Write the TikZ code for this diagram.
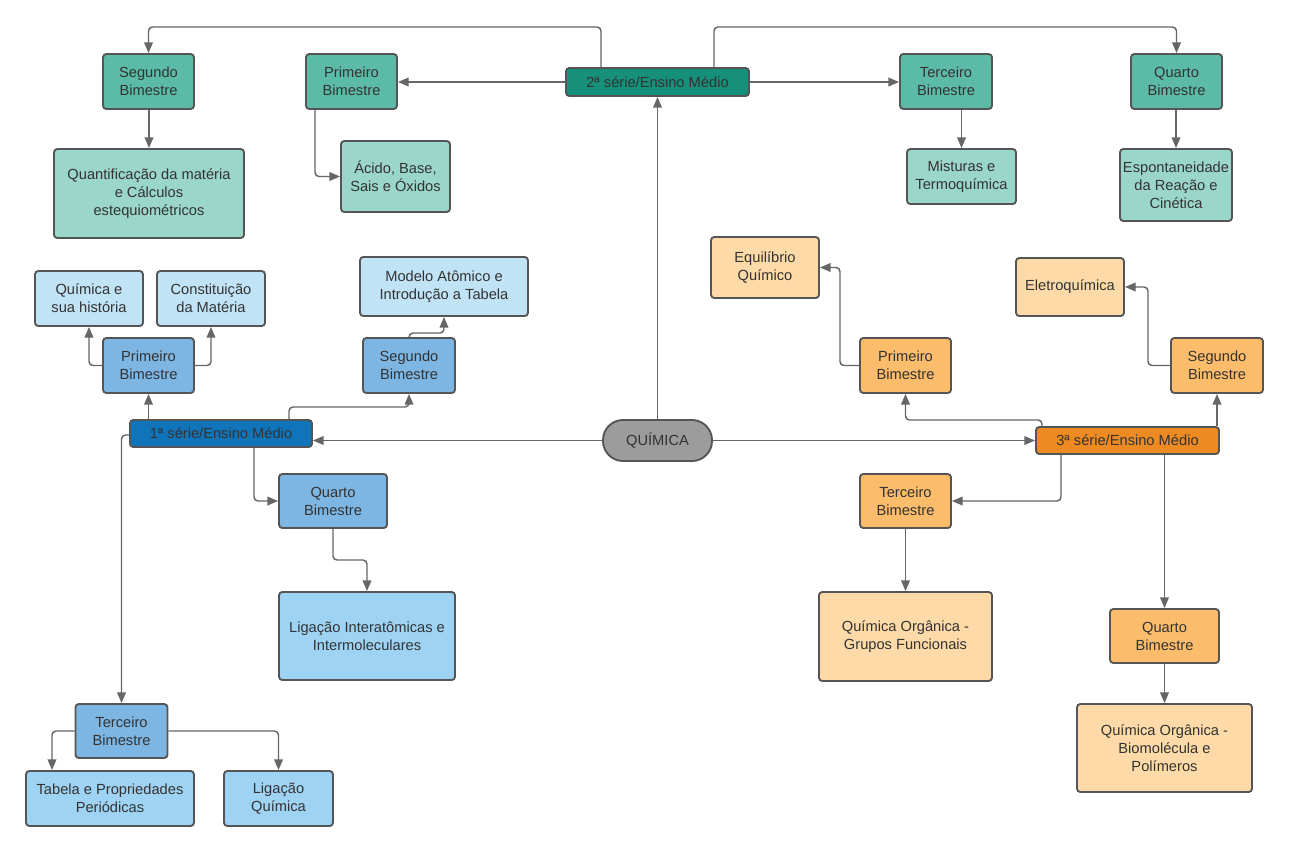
\documentclass[tikz,border=0pt]{standalone}
\usepackage{fontspec}
\setmainfont{Liberation Sans}
\usetikzlibrary{arrows.meta,calc}
\definecolor{tealD}{HTML}{16907A}
\definecolor{tealM}{HTML}{5BBBA6}
\definecolor{tealL}{HTML}{9BD6CA}
\definecolor{blueD}{HTML}{1074BB}
\definecolor{blueM}{HTML}{7DB5E3}
\definecolor{blueL}{HTML}{C1E3F6}
\definecolor{blueL2}{HTML}{9ED3F3}
\definecolor{orD}{HTML}{EE8A22}
\definecolor{orM}{HTML}{FBBD6C}
\definecolor{orL}{HTML}{FDDAA7}
\definecolor{grayQ}{HTML}{9C9C9C}
\definecolor{bordc}{HTML}{555555}
\definecolor{linec}{HTML}{666666}
\definecolor{txtc}{HTML}{333333}
\tikzset{
  box/.style={draw=bordc, line width=1.4pt, rounded corners=2.5pt, align=center,
    inner sep=0pt, text=txtc, font=\fontsize{11}{13.5}\selectfont},
  sz/.style 2 args={minimum width=#1*0.75pt, minimum height=#2*0.75pt},
  arr/.style={draw=linec, line width=1.1pt, rounded corners=3pt,
    -{Triangle[length=8pt,width=6.5pt]}},
}
\begin{document}
\begin{tikzpicture}[x=0.75pt,y=-0.75pt]
\useasboundingbox[fill=white] (0,0) rectangle (1290,851);
% ---- 2a serie (teal)
\node[box,fill=tealD,sz={183}{28}] (s2) at (657.5,82) {2ª série/Ensino Médio};
\node[box,fill=tealM,sz={91}{55}] (t1) at (148.5,81.5) {Segundo\\Bimestre};
\node[box,fill=tealM,sz={91}{55}] (t2) at (351.5,81.5) {Primeiro\\Bimestre};
\node[box,fill=tealM,sz={92}{55}] (t3) at (946,81.5) {Terceiro\\Bimestre};
\node[box,fill=tealM,sz={91}{55}] (t4) at (1176.5,81.5) {Quarto\\Bimestre};
\node[box,fill=tealL,sz={190}{89}] (tq) at (149,193.5) {Quantificação da matéria\\e Cálculos\\estequiométricos};
\node[box,fill=tealL,sz={109}{71}] (ta) at (395.5,176.5) {Ácido, Base,\\Sais e Óxidos};
\node[box,fill=tealL,sz={109}{55}] (tm) at (961.5,176.5) {Misturas e\\Termoquímica};
\node[box,fill=tealL,sz={112}{72}] (te) at (1176,185) {Espontaneidade\\da Reação e\\Cinética};
% ---- center
\node[box,fill=grayQ,sz={109}{41},rounded corners=15pt,text=txtc] (qm) at (657.5,440.5) {QUÍMICA};
% ---- 1a serie (blue)
\node[box,fill=blueD,sz={182}{27}] (s1) at (221,433.5) {1ª série/Ensino Médio};
\node[box,fill=blueM,sz={91}{55}] (b1) at (148.5,365.5) {Primeiro\\Bimestre};
\node[box,fill=blueL,sz={108}{55}] (bh) at (89,298.5) {Química e\\sua história};
\node[box,fill=blueL,sz={108}{55}] (bc) at (211,298.5) {Constituição\\da Matéria};
\node[box,fill=blueM,sz={92}{55}] (b2) at (409,365.5) {Segundo\\Bimestre};
\node[box,fill=blueL,sz={168}{59}] (bm) at (444,286.5) {Modelo Atômico e\\Introdução a Tabela};
\node[box,fill=blueM,sz={108}{54}] (b4) at (333,501) {Quarto\\Bimestre};
\node[box,fill=blueL2,sz={176}{88}] (bl) at (367,636) {Ligação Interatômicas e\\Intermoleculares};
\node[box,fill=blueM,sz={92}{54}] (b3) at (121.5,731) {Terceiro\\Bimestre};
\node[box,fill=blueL2,sz={168}{55}] (bt) at (110,798.5) {Tabela e Propriedades\\Periódicas};
\node[box,fill=blueL2,sz={109}{55}] (bq) at (278.5,798.5) {Ligação\\Química};
% ---- 3a serie (orange)
\node[box,fill=orD,sz={183}{27}] (s3) at (1127.5,440.5) {3ª série/Ensino Médio};
\node[box,fill=orM,sz={91}{55}] (o1) at (905.5,365.5) {Primeiro\\Bimestre};
\node[box,fill=orL,sz={108}{61}] (oe) at (765,267.5) {Equilíbrio\\Químico};
\node[box,fill=orM,sz={92}{55}] (o2) at (1217,365.5) {Segundo\\Bimestre};
\node[box,fill=orL,sz={108}{58}] (ol) at (1070,287) {Eletroquímica};
\node[box,fill=orM,sz={91}{54}] (o3) at (905.5,501) {Terceiro\\Bimestre};
\node[box,fill=orL,sz={173}{89}] (oq) at (905.5,636.5) {Química Orgânica -\\Grupos Funcionais};
\node[box,fill=orM,sz={109}{54}] (o4) at (1164.5,636) {Quarto\\Bimestre};
\node[box,fill=orL,sz={175}{88}] (ob) at (1164.5,748) {Química Orgânica -\\Biomolécula e\\Polímeros};
% ---- waypoints
\coordinate (j1) at (601,27);
\coordinate (j2) at (714,27);
\coordinate (j3) at (315,0);
\coordinate (j4) at (289,407);
\coordinate (j5) at (444,333);
\coordinate (j6) at (254,0);
\coordinate (j7) at (0,560);
\coordinate (j8) at (0,435);
\coordinate (j9) at (52,0);
\coordinate (j10) at (1042,420);
\coordinate (j11) at (840,0);
\coordinate (j12) at (1148,0);
\coordinate (j13) at (1061,0);
% ---- connectors: center
\draw[arr] (qm.north) -- (s2.south);
\draw[arr] (qm.west) -- (qm.west -| s1.east);
\draw[arr] (qm.east) -- (qm.east -| s3.west);
% ---- teal
\draw[arr] (s2.north -| j1) -- (j1) -| (t1.north);
\draw[arr] (s2.north -| j2) -- (j2) -| (t4.north);
\draw[arr] (s2.west) -- (s2.west -| t2.east);
\draw[arr] (s2.east) -- (s2.east -| t3.west);
\draw[arr] (t1.south -| tq.north) -- (tq.north);
\draw[arr] (t2.south -| j3) |- (ta.west);
\draw[arr] (t3.south -| tm.north) -- (tm.north);
\draw[arr] (t4.south -| te.north) -- (te.north);
% ---- blue
\draw[arr] (s1.north -| b1.south) -- (b1.south);
\draw[arr] (b1.west) -| (bh.south);
\draw[arr] (b1.east) -| (bc.south);
\draw[arr] (s1.north -| j4) -- (j4) -| (b2.south);
\draw[arr] (b2.north) |- (j5) -- (bm.south);
\draw[arr] (s1.south -| j6) |- (b4.west);
\draw[arr] (b4.south) -- (b4.south |- j7) -| (bl.north);
\draw[arr] (s1.west |- j8) -| (b3.north);
\draw[arr] (b3.west) -| (bt.north -| j9);
\draw[arr] (b3.east) -| (bq.north);
% ---- orange
\draw[arr] (s3.north -| j10) -- (j10) -| (o1.south);
\draw[arr] (s3.north -| o2.south) -- (o2.south);
\draw[arr] (o1.west) -| (oe.east -| j11) -- (oe.east);
\draw[arr] (o2.west) -| (ol.east -| j12) -- (ol.east);
\draw[arr] (s3.south -| j13) |- (o3.east);
\draw[arr] (s3.south -| o4.north) -- (o4.north);
\draw[arr] (o3.south) -- (oq.north);
\draw[arr] (o4.south) -- (ob.north);
\end{tikzpicture}
\end{document}
